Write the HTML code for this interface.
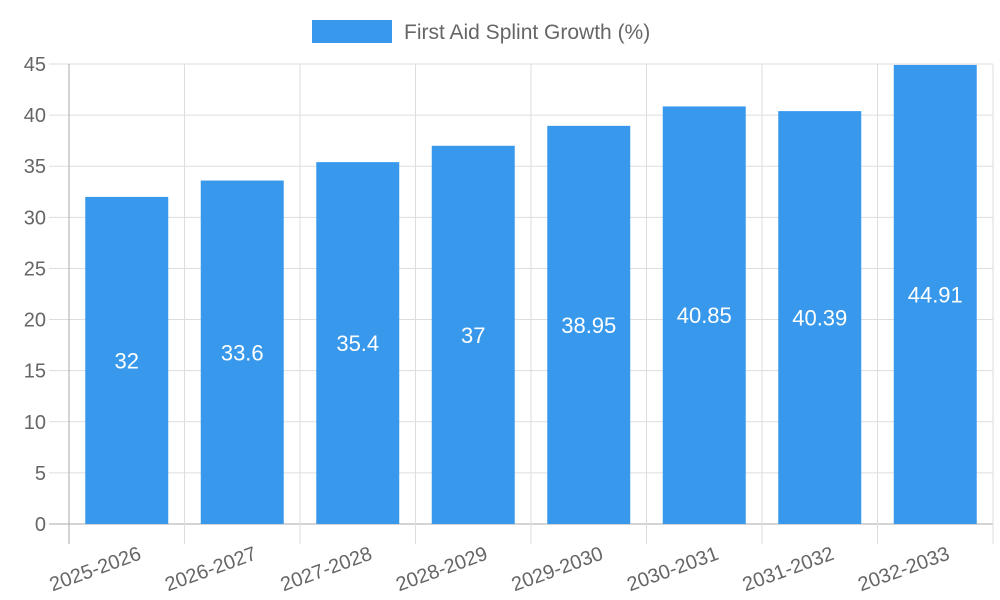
<!DOCTYPE html>
<html><head><meta charset="utf-8"><style>
body{margin:0;background:#fff}
svg{display:block;font-family:"Liberation Sans",sans-serif}
</style></head><body>
<svg id="c" width="1000" height="600"></svg>
<script>
const categories=["2025-2026","2026-2027","2027-2028","2028-2029","2029-2030","2030-2031","2031-2032","2032-2033"];
const values=[32,33.6,35.4,37,38.95,40.85,40.39,44.91];
const yTicks=[0,5,10,15,20,25,30,35,40,45];
const NS="http://www.w3.org/2000/svg";
const svg=document.getElementById('c');
const L=69,R=993,T=64,B=524,yMax=45;
const y=v=>B-(v/yMax)*(B-T);
const band=(R-L)/categories.length;
const x=i=>L+i*band;
function el(t,a,p){const e=document.createElementNS(NS,t);for(const k in a)e.setAttribute(k,a[k]);(p||svg).appendChild(e);return e;}
const grid=el('g',{});


yTicks.forEach(t=>{
 const l=el('line',{x1:49,x2:R,y1:y(t),y2:y(t),stroke:t===0?'#aaa':'#ddd','stroke-width':1},grid);
 
 
 const tx=el('text',{x:46,y:y(t)+7,'text-anchor':'end','font-size':20,fill:'#666'});
 tx.textContent=t;
 
 
});
for(let i=0;i<=categories.length;i++){
 const l=el('line',{x1:x(i),x2:x(i),y1:T,y2:544,stroke:i===0?'#aaa':'#ddd','stroke-width':1},grid);
 
 
}
categories.forEach((c,i)=>{
 const bw=83,cx=x(i)+band/2;
 const r=el('rect',{x:cx-bw/2,y:y(values[i]),width:bw,height:B-y(values[i]),fill:'#3899ec'});
 
 
 const v=el('text',{x:cx,y:(y(values[i])+B)/2+8,'text-anchor':'middle','font-size':22,fill:'#fff'});
 v.textContent=values[i];
 
 
 const lx=cx+11,ly=546;
 const t=el('text',{x:lx,y:ly,'text-anchor':'end','font-size':20,fill:'#666',transform:`rotate(-20 ${lx} ${ly})`,'dominant-baseline':'hanging'});
 t.textContent=c;
 
 
});
const lg=el('g',{});


el('rect',{x:312,y:20,width:80,height:23,fill:'#3899ec'},lg);
const lt=el('text',{x:404,y:39,'font-size':21,fill:'#666'},lg);
lt.textContent='First Aid Splint Growth (%)';


</script>
</body></html>
